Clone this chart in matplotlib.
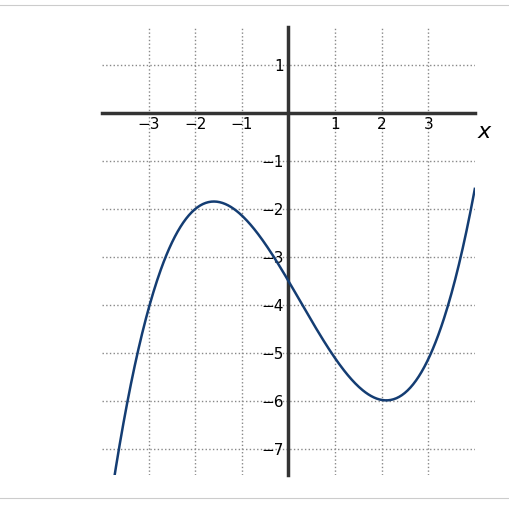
import numpy as np
import matplotlib
matplotlib.use("Agg")
import matplotlib.pyplot as plt
from matplotlib.lines import Line2D

# cubic coefficients (max ~(-1.6,-1.85), min ~(2.1,-6), intercept -3.5)
coeffs = [0.164, -0.123, -1.652, -3.5]
x_ticks = [-3, -2, -1, 1, 2, 3]
y_ticks = [1, -1, -2, -3, -4, -5, -6, -7]

fig = plt.figure(figsize=(5.1, 5.08), dpi=100)
ax = fig.add_axes([0.2, 0.065, 0.731, 0.882])
xs = np.linspace(-4, 4, 400)
ax.plot(xs, np.polyval(coeffs, xs), color="#143d73", lw=1.8, zorder=3)
ax.set_xlim(-4, 4)
ax.set_ylim(-7.55, 1.8)
for s in ["top", "right"]:
    ax.spines[s].set_visible(False)
for s in ["left", "bottom"]:
    ax.spines[s].set_position(("data", 0))
    ax.spines[s].set_linewidth(2.5)
    ax.spines[s].set_color("#333333")
ax.set_xticks(x_ticks)
ax.set_yticks(y_ticks)
ax.tick_params(length=0, labelsize=11)
ax.tick_params(axis="x", pad=3)
ax.grid(True, ls=":", color="#888888", lw=1)
ax.set_axisbelow(True)
ax.text(4.05, -0.4, r"$x$", fontsize=16, ha="left", va="center")
fig.add_artist(Line2D([0, 1], [0.99, 0.99], color="#cccccc", lw=0.8))
fig.add_artist(Line2D([0, 1], [0.02, 0.02], color="#cccccc", lw=0.8))
fig.savefig("out.png", dpi=100)
